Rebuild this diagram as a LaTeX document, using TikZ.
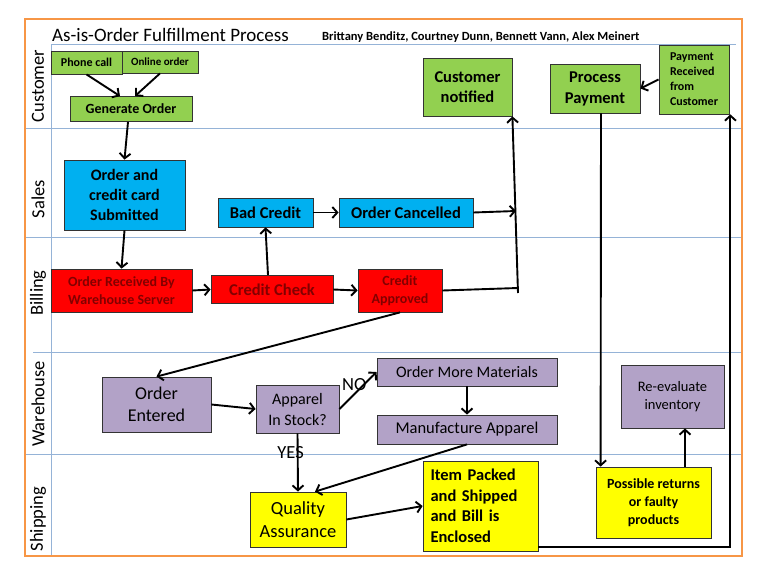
\documentclass[tikz,border=0pt]{standalone}
\usepackage{fontspec}
\setmainfont{Carlito}
\usetikzlibrary{arrows.meta}

\definecolor{custgreen}{RGB}{146,208,80}
\definecolor{salesblue}{RGB}{0,176,240}
\definecolor{billred}{RGB}{255,0,0}
\definecolor{billtext}{RGB}{130,0,0}
\definecolor{housepurple}{RGB}{178,162,199}
\definecolor{shipyellow}{RGB}{255,255,0}
\definecolor{lanerule}{RGB}{149,179,215}
\definecolor{frameorange}{RGB}{247,150,70}

\begin{document}
\begin{tikzpicture}[x=1pt, y=-1pt,
    box/.style={rectangle, draw=black!80, line width=0.8pt, inner sep=0pt, align=center},
    custbox/.style={box, fill=custgreen},
    salesbox/.style={box, fill=salesblue},
    billbox/.style={box, fill=billred, text=billtext},
    housebox/.style={box, fill=housepurple},
    shipbox/.style={box, fill=shipyellow},
    lanelabel/.style={rotate=90, font=\fontsize{18.5}{22}\selectfont},
    laneline/.style={draw=lanerule, line width=1pt},
    flow/.style={line width=1.9pt, -{Straight Barb[length=5pt,width=11pt]}}
]
    \useasboundingbox (0,0) rectangle (768,576);

    % frame and lanes
    \draw[laneline] (51,44) -- (736,44);
    \draw[laneline] (25,128) -- (742,128);
    \draw[laneline] (25,237) -- (742,237);
    \draw[laneline] (33,352) -- (742,352);
    \draw[laneline] (25,454) -- (742,454);
    \draw[laneline] (51,44) -- (51,556);
    \draw[frameorange, line width=1.6pt] (25,19) rectangle (742,556);

    \node[anchor=base west, inner sep=0pt, font=\fontsize{19}{22}\selectfont] (title) at (52,41) {As-is-Order Fulfillment Process};
    \node[anchor=base west, inner sep=0pt, font=\fontsize{12.5}{15}\selectfont\bfseries] (authors) at (322,40)
        {Brittany Benditz, Courtney Dunn, Bennett Vann, Alex Meinert};

    \node[lanelabel] (lanecust) at (38,86) {Customer};
    \node[lanelabel] (lanesales) at (38,199) {Sales};
    \node[lanelabel] (lanebill) at (38,293) {Billing};
    \node[lanelabel] (lanehouse) at (38,404) {Warehouse};
    \node[lanelabel] (laneship) at (38,519) {Shipping};

    % Customer
    \node[custbox, minimum width=71pt, minimum height=23pt, font=\fontsize{12}{14}\selectfont\bfseries] (phone) at (86.5,62.5) {Phone call};
    \node[custbox, minimum width=76pt, minimum height=22pt, font=\fontsize{11}{13}\selectfont\bfseries] (online) at (160,62) {Online order};
    \node[custbox, minimum width=122pt, minimum height=25pt, font=\fontsize{14}{17}\selectfont\bfseries] (genorder) at (131,109) {Generate Order};
    \node[custbox, minimum width=89pt, minimum height=58pt, font=\fontsize{16.5}{20}\selectfont\bfseries] (notified) at (467.5,87) {Customer\\notified};
    \node[custbox, minimum width=90pt, minimum height=49pt, font=\fontsize{16.5}{21}\selectfont\bfseries] (procpay) at (595,88.5) {Process\\Payment};
    \node[custbox, minimum width=70pt, minimum height=69pt, align=left, font=\fontsize{12}{15}\selectfont\bfseries] (payrecv) at (694,79.5)
        {Payment\\Received\\from\\Customer};

    % Sales
    \node[salesbox, minimum width=121pt, minimum height=70pt, font=\fontsize{16}{20}\selectfont\bfseries] (submit) at (124.5,195)
        {Order and\\credit card\\Submitted};
    \node[salesbox, minimum width=95pt, minimum height=29pt, font=\fontsize{16.5}{20}\selectfont\bfseries] (badcredit) at (265.5,212.5) {Bad Credit};
    \node[salesbox, minimum width=134pt, minimum height=29pt, font=\fontsize{16.5}{20}\selectfont\bfseries] (cancelled) at (406,212.5) {Order Cancelled};

    % Billing
    \node[billbox, minimum width=141pt, minimum height=43pt, font=\fontsize{14}{18}\selectfont\bfseries] (received) at (121.5,290.5)
        {Order Received By\\Warehouse Server};
    \node[billbox, minimum width=122pt, minimum height=28pt, font=\fontsize{16.5}{20}\selectfont\bfseries] (creditcheck) at (272,289.5) {Credit Check};
    \node[billbox, minimum width=84pt, minimum height=43pt, font=\fontsize{14}{18}\selectfont\bfseries] (approved) at (400,290.5) {Credit\\Approved};

    % Warehouse
    \node[housebox, minimum width=109pt, minimum height=55pt, font=\fontsize{18}{22}\selectfont] (entered) at (156.5,404.5) {Order\\Entered};
    \node[housebox, minimum width=83pt, minimum height=48pt, font=\fontsize{16}{21}\selectfont] (instock) at (297.5,409) {Apparel\\In Stock?};
    \node[housebox, minimum width=180pt, minimum height=28pt, font=\fontsize{16}{20}\selectfont] (moremat) at (467,372) {Order More Materials};
    \node[housebox, minimum width=180pt, minimum height=29pt, font=\fontsize{16.5}{20}\selectfont] (manufacture) at (467,429.5) {Manufacture Apparel};
    \node[housebox, minimum width=103pt, minimum height=63pt, font=\fontsize{14.5}{18}\selectfont] (reevaluate) at (672.5,396.5) {Re-evaluate\\inventory};

    % Shipping
    \node[shipbox, minimum width=96pt, minimum height=55pt, font=\fontsize{18.5}{23}\selectfont] (quality) at (298,519.5) {Quality\\Assurance};
    \node[shipbox, minimum width=115pt, minimum height=90pt, text width=100pt, align=left, font=\fontsize{16.5}{20.5}\selectfont\bfseries] (packed) at (480.5,506)
        {Item Packed\\and Shipped\\and Bill is\\Enclosed};
    \node[shipbox, minimum width=115pt, minimum height=71pt, font=\fontsize{14}{18}\selectfont\bfseries] (returns) at (653.5,502.5)
        {Possible returns\\or faulty\\products};

    % joints on the way up to the customer
    \coordinate (joincan) at (516,211);
    \coordinate (joinmid) at (518,288);
    \coordinate (joinlow) at (518,293);

    % connectors
    \draw[flow] (phone.south) -- ([xshift=-11pt]genorder.north);
    \draw[flow] (online.south) -- ([xshift=4pt]genorder.north);
    \draw[flow] ([xshift=-3pt]genorder.south) -- (submit.north);
    \draw[flow] (submit.south) -- (received.north);
    \draw[flow] (received.east) -- (creditcheck.west);
    \draw[flow] ([xshift=-4pt]creditcheck.north) -- (badcredit.south);
    \draw[flow] (badcredit.east) -- (cancelled.west);
    \draw[flow] (creditcheck.east) -- (approved.west);
    \draw[flow] (cancelled.east) -- (joincan);
    \draw[line width=1.9pt] (approved.east) -- (joinmid);
    \draw[flow] (joinlow) -- (notified.south east);
    \draw[flow] (approved.south) -- (entered.north);
    \draw[flow] (entered.east) -- (instock.west);
    \draw[flow] (instock.east) -- node[pos=0.4, above=-1pt, font=\fontsize{18.5}{22}\selectfont] (nolabel) {NO} (moremat.west);
    \draw[flow] (moremat.south) -- (manufacture.north);
    \draw[flow] (instock.south) -- node[pos=0.33, xshift=-7pt, font=\fontsize{18.5}{22}\selectfont] (yeslabel) {YES} (quality.north);
    \draw[flow] (manufacture.south) -- ([xshift=17pt]quality.north);
    \draw[flow] (quality.east) -- (packed.west);
    \draw[flow] ([xshift=6pt]procpay.south) -- ([xshift=5pt]returns.north west);
    \draw[flow] ([xshift=31.5pt]returns.north) -- ([xshift=12.5pt]reevaluate.south);
    \draw[flow] ([yshift=4pt]packed.south east) -| ([xshift=1pt]payrecv.south east);
    \draw[flow] (payrecv.west) -- (procpay.east);
\end{tikzpicture}
\end{document}
